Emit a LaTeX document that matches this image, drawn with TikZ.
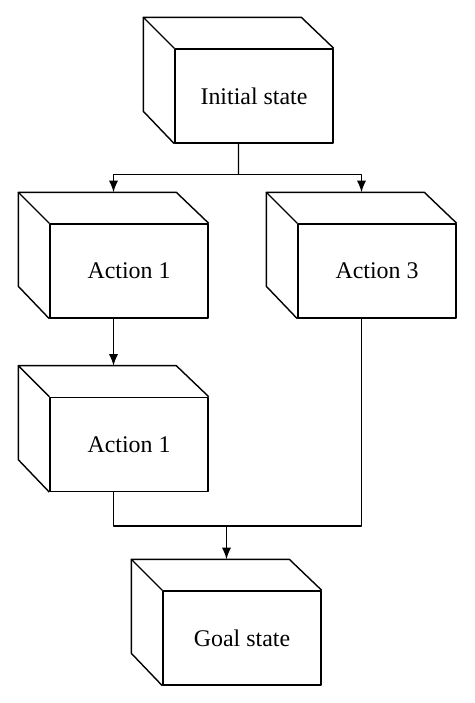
\documentclass[tikz,border=0pt]{standalone}
\usepackage{fontspec}
\setmainfont{Liberation Serif}
\usetikzlibrary{positioning, calc, arrows.meta}

\def\dep{0.775cm}

\begin{document}
\begin{tikzpicture}[
    line width=1pt,
    line join=round,
    cube/.style={rectangle, draw, minimum width=3.95cm, minimum height=2.35cm, inner sep=0pt, font=\fontsize{17}{20}\selectfont},
    arr/.style={-{Latex[length=2.9mm, width=2.3mm]}}
]
    \useasboundingbox (0,0) rectangle (11.85,-17.575);

    % Front faces
    \node[cube] (init) at (6.35,-2.4) {Initial state};
    \node[cube] (act1) at (3.225,-6.775) {Action 1};
    \node[cube] (act3) at (9.425,-6.775) {Action 3};
    \node[cube] (act1b) at (3.225,-11.11) {Action 1};
    \node[cube] (goal) at (6.05,-15.95) {Goal state};

    % Top and side faces
    \foreach \n in {init, act1, act3, act1b, goal} {
        \draw (\n.north west) -- ++(-\dep,\dep) coordinate (\n-bk) -- ++(3.95,0) -- (\n.north east);
        \draw (\n-bk) -- ++(0,-2.35) -- (\n.south west);
    }

    % Branch points
    \coordinate (split) at (5.9625,-4.36);
    \coordinate (merge) at (5.6625,-13.15);

    % Connection Lines
    \draw ([xshift=-\dep/2]init.south) -- (split);
    \draw[arr] (split) -| ([xshift=-\dep/2, yshift=\dep]act1.north);
    \draw[arr] (split) -| ([xshift=-\dep/2, yshift=\dep]act3.north);
    \draw[arr] ([xshift=-\dep/2]act1.south) -- ([xshift=-\dep/2, yshift=\dep]act1b.north);
    \draw ([xshift=-\dep/2]act1b.south) |- (merge) -| ([xshift=-\dep/2]act3.south);
    \draw[arr] (merge) -- ([xshift=-\dep/2, yshift=\dep]goal.north);
\end{tikzpicture}
\end{document}
